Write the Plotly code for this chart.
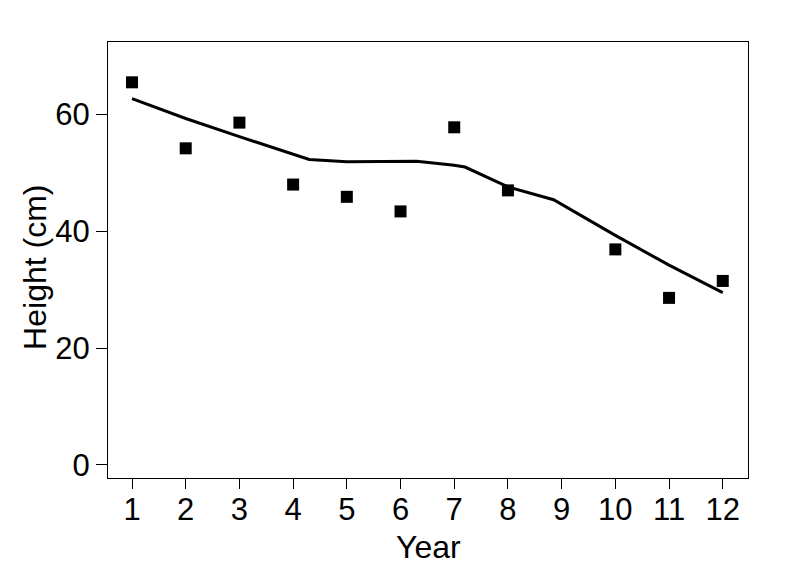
import plotly.graph_objects as go

years = [1, 2, 3, 4, 5, 6, 7, 8, 10, 11, 12]
heights = [65.5, 54.2, 58.6, 48.0, 45.9, 43.4, 57.8, 47.0, 36.9, 28.6, 31.5]

smooth_x = [1, 2, 3, 4, 4.3, 5, 6, 6.3, 7, 7.2, 8, 8.85, 10, 11, 12]
smooth_y = [62.7, 59.3, 56.2, 53.1, 52.3, 51.9, 51.9, 52.0, 51.3, 51.0, 47.6, 45.4, 39.3, 34.2, 29.5]

x_ticks = list(range(1, 13))
y_ticks = [0, 20, 40, 60]

FONT = "Liberation Sans, Arial, sans-serif"

fig = go.Figure()
fig.add_trace(go.Scatter(x=smooth_x, y=smooth_y, mode="lines",
                         line=dict(color="black", width=3), showlegend=False,
                         hoverinfo="skip"))
fig.add_trace(go.Scatter(x=years, y=heights, mode="markers",
                         marker=dict(symbol="square", size=12, color="black"),
                         showlegend=False))

fig.update_layout(
    width=783, height=556,
    margin=dict(l=100, r=43, t=34, b=86),
    paper_bgcolor="white", plot_bgcolor="white",
    font=dict(family=FONT, color="black", size=31),
    xaxis=dict(range=[0.553, 12.47], tickvals=x_ticks, ticktext=[str(v) for v in x_ticks],
               ticks="outside", ticklen=10, tickwidth=1, tickcolor="black",
               showline=True, linecolor="black", linewidth=1, mirror=True,
               showgrid=False, zeroline=False, automargin=False,
               ticklabelstandoff=-6,
               tickfont=dict(size=31, family=FONT)),
    yaxis=dict(range=[-2.23, 72.4], tickvals=y_ticks, ticktext=[str(v) for v in y_ticks],
               ticks="outside", ticklen=11, tickwidth=1, tickcolor="black",
               showline=True, linecolor="black", linewidth=1, mirror=True,
               showgrid=False, zeroline=False, automargin=False,
               tickfont=dict(size=31, family=FONT)),
    annotations=[
        dict(text="Year", xref="paper", yref="paper", x=0.5, y=-0.158,
             xanchor="center", yanchor="middle", showarrow=False,
             font=dict(size=32, family=FONT, color="black")),
        dict(text="Height (cm)", xref="paper", yref="paper", x=-0.114, y=0.482,
             xanchor="center", yanchor="middle", textangle=-90, showarrow=False,
             font=dict(size=32, family=FONT, color="black")),
    ],
)

fig.write_html("out.html")
